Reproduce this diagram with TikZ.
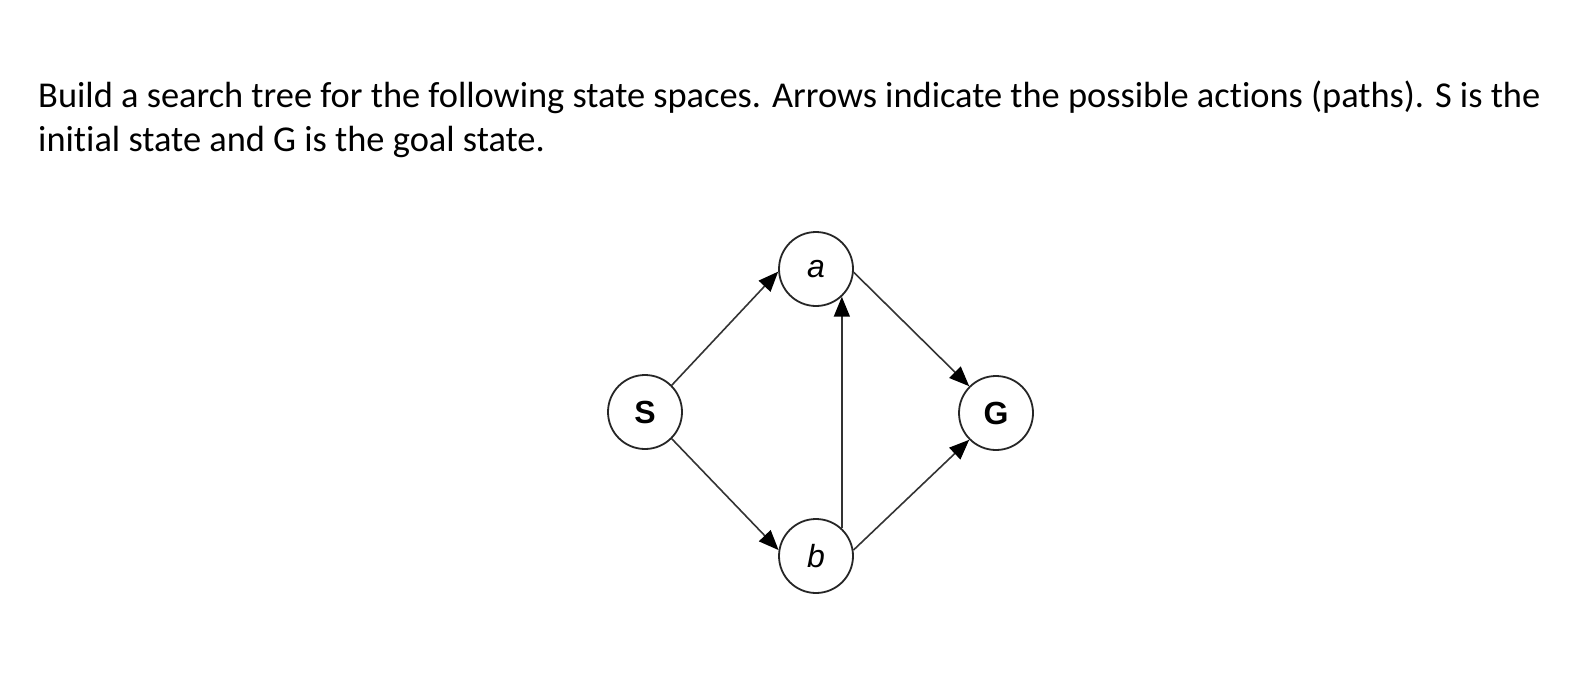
\documentclass[tikz,border=0pt]{standalone}
\usepackage{fontspec}
\setmainfont[Ligatures=NoCommon]{Carlito}
\newfontfamily\arialfont{Liberation Sans}
\usetikzlibrary{arrows.meta}
\begin{document}
\begin{tikzpicture}[x=1pt,y=-1pt,
  state/.style={circle, draw=black!85, line width=1.8pt, minimum size=74pt, inner sep=0pt, fill=white,
    font=\arialfont\fontsize{32}{32}\selectfont},
  edge/.style={draw=black!80, line width=1.6pt, -{Triangle[length=20pt,width=16pt,color=black]}},
  title/.style={anchor=base west, inner sep=0pt, font=\fontsize{36.4}{44}\selectfont}]
\useasboundingbox (0,0) rectangle (1594,696);
\fill[white] (0,0) rectangle (1594,696);
\node[title] (t1) at (38,107) {Build a search tree for the following state spaces. Arrows indicate the possible actions (paths). S is the};
\node[title] (t2) at (38,151) {initial state and G is the goal state.};
\node[state] (S) at (645,412) {\bfseries S};
\node[state] (a) at (816,269) {\itshape a};
\node[state] (G) at (996,413) {\bfseries G};
\node[state] (b) at (816,556) {\itshape b};
\draw[edge] (S.45) -- (a.184);
\draw[edge] (a.355) -- (G.135);
\draw[edge] (S.-45) -- (b.171);
\draw[edge] (b.9) -- (G.225);
\draw[edge] (b.47) -- (a.-47);
\end{tikzpicture}
\end{document}
